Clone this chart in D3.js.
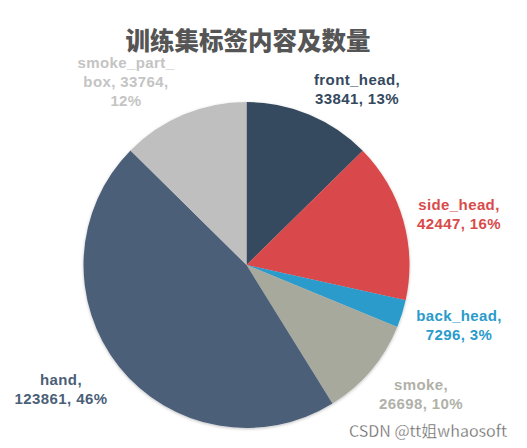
<!DOCTYPE html>
<html><head><meta charset="utf-8">
<script src="https://cdn.jsdelivr.net/npm/d3@7"></script>
<style>body{margin:0;background:#fff}svg{display:block}</style>
</head><body>
<script>
const categories = ["front_head","side_head","back_head","smoke","hand","smoke_part_box"];
const values = [33841, 42447, 7296, 26698, 123861, 33764];
const percentLabels = ["13%","16%","3%","10%","46%","12%"];
const colors = ["#34495e","#d94a4b","#2a9bcb","#a7a99d","#4b5f78","#bfbfbf"];
const labelColors = ["#34495e","#d94a4b","#2a9bcb","#b0b1a8","#4b5f78","#c4c4c4"];
const labelLines = [
  ["front_head,","33841, 13%"],
  ["side_head,","42447, 16%"],
  ["back_head,","7296, 3%"],
  ["smoke,","26698, 10%"],
  ["hand,","123861, 46%"],
  ["smoke_part_","box, 33764,","12%"]
];
const labelPos = [[357,80],[459,205],[459,316],[421,385],[61,380],[126,63]];

const W=527,H=448, cx=246.5, cy=265, R=163;
const svg=d3.select("body").append("svg").attr("width",W).attr("height",H);
const defs=svg.append("defs");
const f=defs.append("filter").attr("id","sh").attr("x","-10%").attr("y","-10%").attr("width","120%").attr("height","120%");
f.append("feDropShadow").attr("dx",0).attr("dy",1).attr("stdDeviation",1.5).attr("flood-color","#000").attr("flood-opacity",0.25);

svg.append("text").attr("x",248).attr("y",50).attr("text-anchor","middle")
  .attr("font-family","'Noto Sans CJK SC'").attr("font-weight",900).attr("font-size",24.5)
  .attr("fill","#555").text("训练集标签内容及数量");

const pie=d3.pie().sort(null).value(d=>d)(values);
const arc=d3.arc().innerRadius(0).outerRadius(R);
const g=svg.append("g").attr("transform",`translate(${cx},${cy})`).attr("filter","url(#sh)");
g.selectAll("path").data(pie).join("path").attr("d",arc).attr("fill",(d,i)=>colors[i]);

labelLines.forEach((lines,i)=>{
  const t=svg.append("text").attr("text-anchor","middle")
    .attr("font-family","'Liberation Sans',Arial,sans-serif").attr("font-weight","bold")
    .attr("font-size",15).attr("letter-spacing",0.4).attr("fill",labelColors[i]);
  lines.forEach((l,j)=>t.append("tspan").attr("x",labelPos[i][0]).attr("y",labelPos[i][1]+5+j*19).text(l));
});

svg.append("text").attr("x",507).attr("y",437).attr("text-anchor","end")
  .attr("font-family","'Noto Sans CJK SC',sans-serif").attr("font-size",16)
  .attr("fill","#666").attr("stroke","#fff").attr("stroke-width",0.3).text("CSDN @tt姐whaosoft");
</script>
</body></html>
